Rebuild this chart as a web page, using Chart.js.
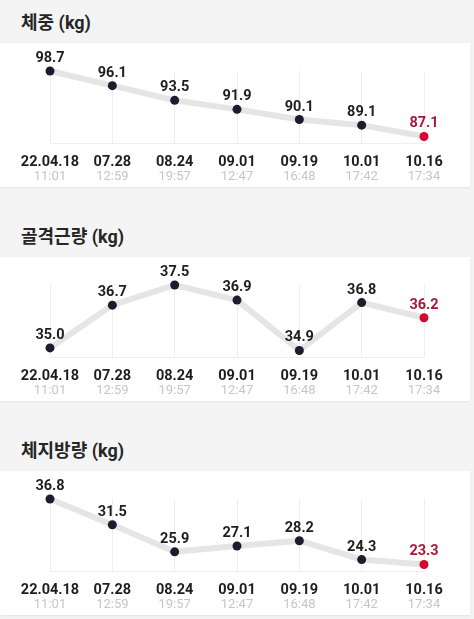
<!DOCTYPE html>
<html lang="ko">
<head>
<meta charset="utf-8">
<title>체성분 변화</title>
<script src="https://cdn.jsdelivr.net/npm/chart.js"></script>
<style>
  html, body { margin: 0; padding: 0; }
  body {
    width: 474px; height: 619px; overflow: hidden;
    background: #f4f4f4;
    font-family: Roboto, "Noto Sans CJK KR", sans-serif;
  }
  .head {
    height: 70px; box-sizing: border-box;
    display: flex; align-items: flex-end;
    padding: 0 0 8px 21px;
    font-size: 18px; font-weight: bold; color: #262626; line-height: 24px;
  }
  .head.first { height: 43px; }
  .card {
    width: 470px; height: 144px; background: #fff;
    box-shadow: 0 1px 2px rgba(0,0,0,0.07);
  }
</style>
</head>
<body>
  <div class="head first">체중 (kg)</div>
  <div class="card"><canvas id="chartWeight"></canvas></div>
  <div class="head">골격근량 (kg)</div>
  <div class="card"><canvas id="chartMuscle"></canvas></div>
  <div class="head">체지방량 (kg)</div>
  <div class="card"><canvas id="chartFat"></canvas></div>

<script>
// 측정 날짜 / 시간
const dates = ["22.04.18", "07.28", "08.24", "09.01", "09.19", "10.01", "10.16"];
const times = ["11:01", "12:59", "19:57", "12:47", "16:48", "17:42", "17:34"];

// 측정값
const weight = [98.7, 96.1, 93.5, 91.9, 90.1, 89.1, 87.1];
const muscle = [35.0, 36.7, 37.5, 36.9, 34.9, 36.8, 36.2];
const fat = [36.8, 31.5, 25.9, 27.1, 28.2, 24.3, 23.3];

const FONT = 'Roboto, "Noto Sans CJK KR", sans-serif';
const DOT = "#1b1d2c";
const RED = "#d3072f";
const RED_TEXT = "#a9173b";

// 점 위에 값 표시
const valueLabels = {
    id: "valueLabels",
    afterDatasetsDraw(chart) {
        const ctx = chart.ctx;
        const meta = chart.getDatasetMeta(0);
        const values = chart.data.datasets[0].data;
        ctx.save();
        ctx.font = "bold 14.5px " + FONT;
        ctx.textAlign = "center";
        ctx.textBaseline = "alphabetic";
        meta.data.forEach((pt, i) => {
            ctx.fillStyle = i === values.length - 1 ? RED_TEXT : "#1e1e1e";
            ctx.fillText(values[i].toFixed(1), pt.x, pt.y - 9);
        });
        ctx.restore();
    }
};

function crearGrafico(id, valores) {
    const minV = Math.min(...valores);
    const maxV = Math.max(...valores);
    const pad = (maxV - minV) * 0.1;
    const last = valores.length - 1;

    new Chart(document.getElementById(id), {
        type: "line",
        data: {
            labels: dates,
            datasets: [{
                data: valores,
                borderColor: "#e5e5e5",
                borderWidth: 6,
                borderJoinStyle: "round",
                tension: 0,
                pointRadius: 4.5,
                pointHoverRadius: 4.5,
                pointBorderWidth: 0,
                pointBackgroundColor: valores.map((v, i) => i === last ? RED : DOT),
                clip: false
            }]
        },
        options: {
            responsive: true,
            maintainAspectRatio: false,
            animation: false,
            events: [],
            layout: { padding: { left: 50, right: 46, top: 28, bottom: 0 } },
            plugins: { legend: { display: false }, tooltip: { enabled: false } },
            scales: {
                x: {
                    type: "category",
                    offset: false,
                    grid: { color: "#eeeeee", drawTicks: false },
                    border: { color: "#eeeeee" },
                    ticks: {
                        color: "#1e1e1e",
                        font: { family: FONT, size: 14.5, weight: "bold" },
                        padding: 11,
                        maxRotation: 0,
                        autoSkip: false
                    },
                    afterFit(axis) { axis.height = 25; axis.paddingLeft = 0; axis.paddingRight = 0; }
                },
                x2: {
                    type: "category",
                    labels: times,
                    position: "bottom",
                    offset: false,
                    grid: { display: false, drawTicks: false },
                    border: { display: false },
                    ticks: {
                        color: "#c6c6c6",
                        font: { family: FONT, size: 13 },
                        padding: 1,
                        maxRotation: 0,
                        autoSkip: false
                    },
                    afterFit(axis) { axis.height = 19; axis.paddingLeft = 0; axis.paddingRight = 0; }
                },
                y: { display: false, min: minV - pad, max: maxV }
            }
        },
        plugins: [valueLabels]
    });
}

document.addEventListener("DOMContentLoaded", () => {
    crearGrafico("chartWeight", weight);
    crearGrafico("chartMuscle", muscle);
    crearGrafico("chartFat", fat);
});
</script>
</body>
</html>
